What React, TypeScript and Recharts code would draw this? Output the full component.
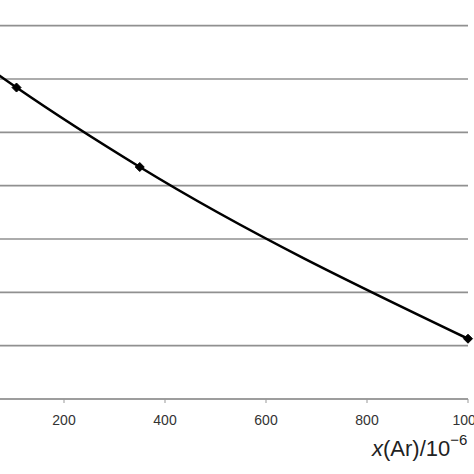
import React from "react";
import { LineChart, Line, XAxis, YAxis, CartesianGrid } from "recharts";

const xValues = [0, 106, 350, 1000];
const yValues = [6.55, 5.84, 4.35, 1.13];
const xTicks = [0, 200, 400, 600, 800, 1000];
const yTicks = [0, 1, 2, 3, 4, 5, 6, 7];

const data = xValues.map((x, i) => ({ x, y: yValues[i] }));

const Diamond = (props: any) => {
  const { cx, cy } = props;
  if (cx == null || cy == null) return null;
  const r = 4.5;
  return (
    <polygon
      points={`${cx},${cy - r} ${cx + r},${cy} ${cx},${cy + r} ${cx - r},${cy}`}
      fill="#000"
      stroke="#000"
      strokeWidth={1}
    />
  );
};

const AxisTitle = () => (
  <text x={409} y={457} fill="#222" fontSize={22} fontFamily="Liberation Sans, Arial, sans-serif">
    <tspan fontStyle="italic">x</tspan>
    <tspan>(Ar)/10</tspan>
    <tspan dy={-11} fontSize={15}>−6</tspan>
  </text>
);

export default function App() {
  return (
    <div
      style={{
        position: "fixed",
        left: 0,
        top: 0,
        width: 474,
        height: 474,
        overflow: "hidden",
        background: "#fff",
      }}
    >
      <div style={{ position: "absolute", left: -37, top: -1 }}>
        <LineChart
          width={535}
          height={475}
          data={data}
          margin={{ top: 0, right: 30, left: 0, bottom: 35 }}
        >
          <CartesianGrid vertical={false} stroke="#909090" strokeWidth={1.6} />
          <XAxis
            dataKey="x"
            type="number"
            domain={[0, 1000]}
            ticks={xTicks}
            height={40}
            tickSize={4}
            tickMargin={12}
            tick={{ fontSize: 14, fill: "#333", fontFamily: "Liberation Sans, Arial, sans-serif" }}
            tickLine={{ stroke: "#999" }}
            axisLine={{ stroke: "#999", strokeWidth: 1.6 }}
            label={{ content: () => <AxisTitle /> }}
          />
          <YAxis hide type="number" domain={[0, 7.5]} ticks={yTicks} />
          <Line
            type="monotone"
            dataKey="y"
            stroke="#000"
            strokeWidth={2.6}
            dot={<Diamond />}
            activeDot={false}
            isAnimationActive={false}
          />
        </LineChart>
      </div>
    </div>
  );
}
